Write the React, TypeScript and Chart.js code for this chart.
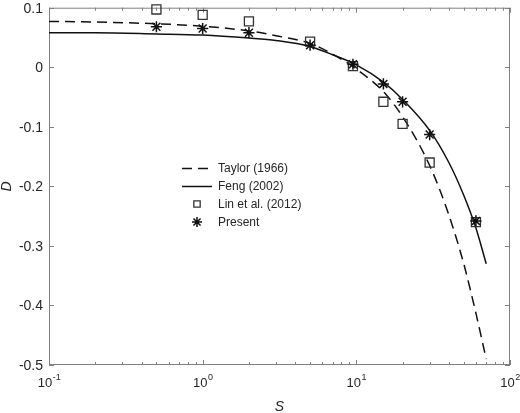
import React, { useEffect, useRef } from 'react'
import { Chart, registerables } from 'chart.js'
import { drawPoint } from 'chart.js/helpers'

Chart.register(...registerables)

// curves
const taylorS = [0.1, 0.2, 0.5, 1, 2, 3, 5, 7, 10, 15, 20, 30, 40, 50, 60, 70]
const taylorD = [0.077, 0.076, 0.073, 0.069, 0.061, 0.053, 0.04, 0.022, -0.003, -0.041, -0.083, -0.165, -0.248, -0.33, -0.413, -0.49]
const fengS = [0.1, 0.2, 0.5, 1, 2, 3, 5, 7, 10, 15, 20, 30, 40, 50, 60, 70]
const fengD = [0.058, 0.058, 0.056, 0.054, 0.049, 0.045, 0.035, 0.021, 0.004, -0.025, -0.054, -0.106, -0.16, -0.215, -0.27, -0.33]

// symbols
const linS = [0.5, 1, 2, 5, 9.5, 15, 20, 30, 60]
const linD = [0.097, 0.088, 0.077, 0.043, 0.002, -0.058, -0.095, -0.16, -0.26]
const presentS = [0.5, 1, 2, 5, 9.5, 15, 20, 30, 60]
const presentD = [0.068, 0.065, 0.058, 0.037, 0.005, -0.028, -0.058, -0.113, -0.258]

const xExponents = [-1, 0, 1, 2]
const yTicks = [0.1, 0, -0.1, -0.2, -0.3, -0.4, -0.5]

const FONT = "'Liberation Sans', Arial, sans-serif"
const TEXT = '#262626'
const AXIS = '#808080'

const pts = (xs: number[], ys: number[]) => xs.map((x, i) => ({ x, y: ys[i] }))

const axesPlugin = {
  id: 'matlabAxes',
  beforeDatasetsDraw(chart: any) {
    const { ctx, chartArea: a, scales } = chart
    const x = scales.x
    const y = scales.y
    ctx.save()
    ctx.strokeStyle = AXIS
    ctx.lineWidth = 1
    ctx.strokeRect(a.left + 0.5, a.top + 0.5, a.right - a.left - 1, a.bottom - a.top - 1)
    ctx.beginPath()
    // log ticks top & bottom, pointing in
    for (let e = -1; e <= 2; e++) {
      for (let m = 1; m <= 9; m++) {
        const v = m * Math.pow(10, e)
        if (v > 100.0001) break
        const px = Math.round(x.getPixelForValue(v)) + 0.5
        const len = m === 1 ? 5 : 3
        ctx.moveTo(px, a.bottom)
        ctx.lineTo(px, a.bottom - len)
        ctx.moveTo(px, a.top)
        ctx.lineTo(px, a.top + len)
      }
    }
    yTicks.forEach((v) => {
      const py = Math.round(y.getPixelForValue(v)) + 0.5
      ctx.moveTo(a.left, py)
      ctx.lineTo(a.left + 5, py)
      ctx.moveTo(a.right, py)
      ctx.lineTo(a.right - 5, py)
    })
    ctx.stroke()
    ctx.restore()
  },
  afterDraw(chart: any) {
    const { ctx, chartArea: a, scales } = chart
    const x = scales.x
    const y = scales.y
    ctx.save()
    ctx.fillStyle = TEXT

    // y tick labels
    ctx.font = `14px ${FONT}`
    ctx.textAlign = 'right'
    ctx.textBaseline = 'middle'
    yTicks.forEach((v) => {
      const label = Math.abs(v) < 1e-9 ? '0' : v.toFixed(1)
      ctx.fillText(label, a.left - 6, y.getPixelForValue(v) + 1)
    })

    // x tick labels 10^n
    ctx.textAlign = 'left'
    ctx.textBaseline = 'alphabetic'
    xExponents.forEach((e) => {
      const base = '10'
      const exp = String(e)
      ctx.font = `13px ${FONT}`
      const wb = ctx.measureText(base).width
      ctx.font = `9px ${FONT}`
      const we = ctx.measureText(exp).width
      const cx = x.getPixelForValue(Math.pow(10, e))
      const x0 = cx - (wb + we) / 2
      ctx.font = `13px ${FONT}`
      ctx.fillText(base, x0, 387)
      ctx.font = `9px ${FONT}`
      ctx.fillText(exp, x0 + wb + 0.5, 380)
    })

    // axis titles
    ctx.font = `italic 14px ${FONT}`
    ctx.textAlign = 'center'
    ctx.fillText('S', (a.left + a.right) / 2, 411)
    ctx.save()
    ctx.translate(11, (a.top + a.bottom) / 2)
    ctx.rotate(-Math.PI / 2)
    ctx.fillText('D', 0, 0)
    ctx.restore()

    // legend
    const lx = 197
    const tx = 218
    const rows = [168, 186, 204, 222]
    ctx.font = `12px ${FONT}`
    ctx.textAlign = 'left'
    ctx.textBaseline = 'middle'
    chart.data.datasets.forEach((ds: any, i: number) => {
      const ry = rows[i]
      if (ds.showLine) {
        ctx.save()
        ctx.strokeStyle = ds.borderColor
        ctx.lineWidth = ds.borderWidth
        ctx.setLineDash(ds.borderDash || [])
        ctx.beginPath()
        ctx.moveTo(lx - 15, ry + 0.5)
        ctx.lineTo(lx + 15, ry + 0.5)
        ctx.stroke()
        ctx.restore()
      } else {
        ctx.save()
        ctx.strokeStyle = ds.pointBorderColor
        ctx.fillStyle = 'rgba(0,0,0,0)'
        ctx.lineWidth = ds.pointBorderWidth
        drawPoint(ctx, {
          pointStyle: ds.pointStyle,
          radius: ds.pointStyle === 'rect' ? 4.5 : 5,
          rotation: 0,
          borderWidth: ds.pointBorderWidth
        }, lx, ry)
        ctx.restore()
      }
      ctx.fillStyle = TEXT
      ctx.fillText(ds.label, tx, ry + 1)
    })
    ctx.restore()
  }
}

const App: React.FC = () => {
  const chartRef = useRef<Chart | null>(null)
  const canvasRef = useRef<HTMLCanvasElement | null>(null)

  useEffect(() => {
    document.body.style.margin = '0'
    if (canvasRef.current) {
      if (chartRef.current) {
        chartRef.current.destroy()
      }

      chartRef.current = new Chart(canvasRef.current, {
        type: 'scatter',
        data: {
          datasets: [
            {
              label: 'Taylor (1966)',
              data: pts(taylorS, taylorD),
              showLine: true,
              borderColor: '#111111',
              borderWidth: 1.5,
              borderDash: [10, 6],
              pointRadius: 0,
              cubicInterpolationMode: 'monotone',
              order: 3
            },
            {
              label: 'Feng (2002)',
              data: pts(fengS, fengD),
              showLine: true,
              borderColor: '#111111',
              borderWidth: 1.5,
              pointRadius: 0,
              cubicInterpolationMode: 'monotone',
              order: 2
            },
            {
              label: 'Lin et al. (2012)',
              data: pts(linS, linD),
              showLine: false,
              pointStyle: 'rect',
              pointRadius: 6.4,
              pointBorderWidth: 1.3,
              pointBorderColor: '#333333',
              pointBackgroundColor: 'rgba(0,0,0,0)',
              clip: false,
              order: 1
            },
            {
              label: 'Present',
              data: pts(presentS, presentD),
              showLine: false,
              pointStyle: 'star',
              pointRadius: 5.6,
              pointBorderWidth: 1.5,
              pointBorderColor: '#111111',
              pointBackgroundColor: 'rgba(0,0,0,0)',
              clip: false,
              order: 0
            }
          ]
        },
        options: {
          animation: false,
          responsive: true,
          maintainAspectRatio: false,
          layout: { padding: { left: 49, right: 10, top: 5, bottom: 48 } },
          plugins: {
            legend: { display: false },
            tooltip: { enabled: false }
          },
          scales: {
            x: { type: 'logarithmic', min: 0.1, max: 100, display: false },
            y: { type: 'linear', min: -0.5, max: 0.1, display: false }
          }
        },
        plugins: [axesPlugin]
      } as any)
    }

    return () => {
      if (chartRef.current) {
        chartRef.current.destroy()
        chartRef.current = null
      }
    }
  }, [])

  return (
    <div style={{ position: 'relative', width: 520, height: 413, background: '#fff' }}>
      <canvas ref={canvasRef}></canvas>
    </div>
  )
}

export default App
